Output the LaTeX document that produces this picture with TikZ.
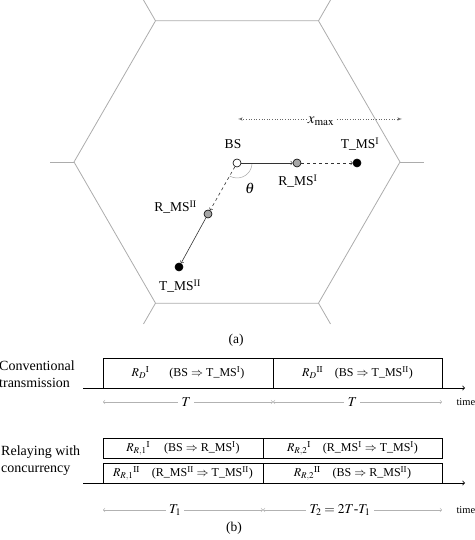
\documentclass[tikz,border=0pt]{standalone}
\usepackage{mathptmx}
\usepackage{fontspec}
\setmainfont{Liberation Serif}
\usetikzlibrary{shapes,arrows,positioning}
\tikzstyle{cell} = [draw=gray!65, line width=0.8pt]
\tikzstyle{station} = [circle, draw, line width=0.6pt, inner sep=0pt, minimum size=8pt]
\tikzstyle{bs} = [station, fill=white]
\tikzstyle{relay} = [station, fill=gray!70]
\tikzstyle{term} = [station, fill=black]
\tikzstyle{line} = [draw, ->, line width=0.6pt, black!80]
\tikzstyle{dline} = [line, dashed]
\tikzstyle{slot} = [rectangle, draw, line width=0.8pt, inner sep=0pt, outer sep=0pt, anchor=south west, font=\fontsize{12}{14}\selectfont]
\tikzstyle{span} = [draw=gray!60, line width=0.6pt, <->]
\tikzstyle{axis} = [draw, line width=0.8pt, ->]
\tikzstyle{rowlabel} = [anchor=west, align=left, inner sep=0pt, font=\fontsize{14}{17}\selectfont]

\begin{document}
\begin{tikzpicture}[x=1pt, y=1pt, font=\fontsize{13.5}{15}\selectfont]
    \useasboundingbox (0,0) rectangle (474,540);

    % (a) the cell
    \begin{scope}[shift={(237,378)}]
      \draw[cell] (0:163) -- (60:163) -- (120:163) -- (180:163) -- (240:163) -- (300:163) -- cycle;
      \foreach \a in {0,60,...,300}
        \draw[cell] (\a:163) -- (\a:187);
    \end{scope}

    \coordinate (xl) at (238,421);
    \coordinate (xr) at (402,421);
    \draw[dotted, gray!80!black, line width=0.6pt, latex'-latex'] (xl) -- (xr);
    \node[fill=white, inner sep=1pt, font=\fontsize{15}{17}\selectfont] (xmax) at (321,419) {$x_{\max}$};

    \node [bs] (bs) at (237,377) {};
    \node [relay] (rms1) at (297,377) {};
    \node [term] (tms1) at (357,377) {};
    \node [relay] (rms2) at (208,326) {};
    \node [term] (tms2) at (179,273) {};

    \node [anchor=base] (bslab) at (233,391) {BS};
    \node [anchor=base] (tms1lab) at (360,391) {T\_MS\textsuperscript{I}};
    \node [anchor=base] (rms1lab) at (298,354) {R\_MS\textsuperscript{I}};
    \node [anchor=base east, inner sep=0pt] (rms2lab) at (197,328) {R\_MS\textsuperscript{II}};
    \node [anchor=base] (tms2lab) at (180,249) {T\_MS\textsuperscript{II}};

    \draw[gray!70, line width=0.5pt] ([xshift=15pt]bs.center) arc[start angle=0, end angle=-120, radius=15pt];
    \node [font=\fontsize{15}{17}\selectfont] (theta) at (250,352) {$\theta$};

    \path [line] (bs) -- (rms1);
    \path [dline] (rms1) -- (tms1);
    \path [dline] (bs) -- (rms2);
    \path [line] (rms2) -- (tms2);

    \node (capa) at (236,200) {(a)};

    % (b) conventional transmission
    \node [rowlabel] (conv) at (-1,165.5) {Conventional\\transmission};
    \node [slot, minimum width=170pt, minimum height=30pt] (cv1) at (103,152)
      {${R_D}^{\mathrm{I}}$\hspace{20pt}(BS $\Rightarrow$ T\_MS\textsuperscript{I})};
    \node [slot, minimum width=169pt, minimum height=30pt] (cv2) at (cv1.south east)
      {${R_D}^{\mathrm{II}}$\quad(BS $\Rightarrow$ T\_MS\textsuperscript{II})};

    \coordinate (ca0) at (83,152);
    \coordinate (ca1) at (465,152);
    \draw[axis] (ca0) -- (ca1);
    \node [anchor=west, font=\fontsize{10.5}{12}\selectfont] (time1) at (453,138) {time};

    \coordinate (sa) at (103,138);
    \coordinate (sb) at (273,138);
    \coordinate (sc) at (442,138);
    \draw[span] (sa) -- (sb) node[pos=0.49, fill=white, text=black] (tc1) {$T$};
    \draw[span] (sb) -- (sc) node[pos=0.47, fill=white, text=black] (tc2) {$T$};

    % (b) relaying with concurrency
    \node [rowlabel] (relay) at (1,79.5) {Relaying with\\concurrency};
    \node [slot, minimum width=160pt, minimum height=20pt] (rl1) at (103,82)
      {${R_{R,1}}^{\mathrm{I}}$\hspace{14pt}(BS $\Rightarrow$ R\_MS\textsuperscript{I})};
    \node [slot, minimum width=179pt, minimum height=20pt] (rl2) at (rl1.south east)
      {${R_{R,2}}^{\mathrm{I}}$\quad(R\_MS\textsuperscript{I} $\Rightarrow$ T\_MS\textsuperscript{I})};
    \node [slot, minimum width=160pt, minimum height=20pt] (rl3) at (103,57)
      {${R_{R,1}}^{\mathrm{II}}$\quad(R\_MS\textsuperscript{II} $\Rightarrow$ T\_MS\textsuperscript{II})};
    \node [slot, minimum width=179pt, minimum height=20pt] (rl4) at (rl3.south east)
      {${R_{R,2}}^{\mathrm{II}}$\quad(BS $\Rightarrow$ R\_MS\textsuperscript{II})};

    \coordinate (cb0) at (83,57);
    \coordinate (cb1) at (465,57);
    \draw[axis] (cb0) -- (cb1);
    \node [anchor=west, font=\fontsize{10.5}{12}\selectfont] (time2) at (453,30) {time};

    \coordinate (sd) at (103,30);
    \coordinate (se) at (263,30);
    \coordinate (sf) at (442,30);
    \draw[span] (sd) -- (se) node[pos=0.45, fill=white, text=black] (tr1) {$T_1$};
    \draw[span] (se) -- (sf) node[pos=0.43, fill=white, text=black] (tr2) {$T_2 = 2T$-$T_1$};

    \node (capb) at (234,12) {(b)};
\end{tikzpicture}
\end{document}
